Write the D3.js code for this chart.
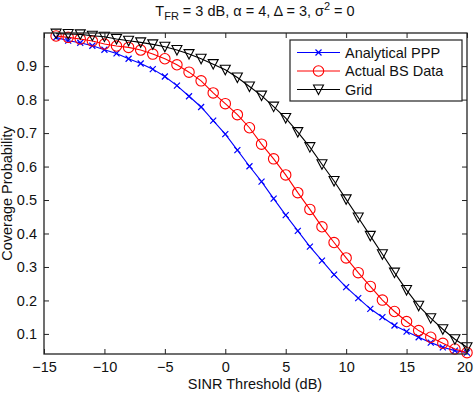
<!DOCTYPE html>
<html>
<head>
<meta charset="utf-8">
<script src="https://cdn.jsdelivr.net/npm/d3@7"></script>
<style>
  body { margin: 0; background: #fff; }
  svg { font-family: "Liberation Sans", Arial, sans-serif; }
</style>
</head>
<body>
<svg id="chart" width="474" height="393"></svg>
<script>
// SINR thresholds (dB)
var thresholds = [-14,-13,-12,-11,-10,-9,-8,-7,-6,-5,-4,-3,-2,-1,0,1,2,3,4,5,6,7,8,9,10,11,12,13,14,15,16,17,18,19,20];

var analyticalPPP = [0.986,0.976,0.970,0.961,0.949,0.938,0.922,0.908,0.891,0.869,0.842,0.810,0.778,0.737,0.697,0.649,0.601,0.555,0.504,0.455,0.408,0.361,0.319,0.277,0.240,0.207,0.175,0.150,0.125,0.107,0.090,0.074,0.060,0.050,0.044];
var actualBS = [0.990,0.986,0.981,0.975,0.966,0.960,0.956,0.948,0.936,0.922,0.904,0.882,0.856,0.820,0.788,0.755,0.716,0.667,0.623,0.575,0.522,0.472,0.420,0.373,0.327,0.283,0.242,0.201,0.167,0.137,0.110,0.090,0.072,0.055,0.044];
var grid = [0.997,0.996,0.995,0.991,0.988,0.981,0.976,0.971,0.965,0.958,0.948,0.936,0.922,0.906,0.889,0.866,0.839,0.812,0.779,0.745,0.703,0.658,0.607,0.557,0.502,0.448,0.393,0.338,0.283,0.231,0.184,0.147,0.114,0.084,0.060];

var xTicks = [-15,-10,-5,0,5,10,15,20];
var yTicks = [0.1,0.2,0.3,0.4,0.5,0.6,0.7,0.8,0.9];

var series = [
    {name: "Analytical PPP", values: analyticalPPP, color: "#0000ff", marker: "x"},
    {name: "Actual BS Data", values: actualBS, color: "#ff0000", marker: "o"},
    {name: "Grid", values: grid, color: "#000000", marker: "v"}
];

var plotLeft = 44, plotRight = 467, plotTop = 33, plotBottom = 354;
var svg = d3.select("#chart");

var xScale = d3.scaleLinear().domain([-15, 20]).range([plotLeft, plotRight]);
var yScale = d3.scaleLinear().domain([0.04, 0.999]).range([plotBottom, plotTop]);

// axes, MATLAB style: ticks inside, box on
var axisColor = "#222";
function styleAxis(g){
    g.select(".domain").remove();
    g.selectAll(".tick line").attr("stroke", axisColor);
    g.selectAll(".tick text").attr("fill", "#111").style("font-size", "14.5px");
}

svg.append("g")
    .attr("transform", `translate(0, ${plotBottom})`)
    .call(d3.axisBottom(xScale).tickValues(xTicks).tickSizeInner(-5).tickSizeOuter(0).tickPadding(8)
        .tickFormat(function(d){ return d < 0 ? "\u2212" + Math.abs(d) : d; }))
    .call(styleAxis)
    .call(function(g){
        // keep the last label inside the page edge
        g.selectAll(".tick text").filter(function(d){ return d == 20; }).attr("dx", -2.5);
    });

svg.append("g")
    .attr("transform", `translate(0, ${plotTop})`)
    .call(d3.axisTop(xScale).tickValues(xTicks).tickSizeInner(-5).tickSizeOuter(0).tickFormat(""))
    .call(styleAxis);

svg.append("g")
    .attr("transform", `translate(${plotLeft}, 0)`)
    .call(d3.axisLeft(yScale).tickValues(yTicks).tickSizeInner(-5).tickSizeOuter(0).tickPadding(7).tickFormat(d3.format(".1f")))
    .call(styleAxis);

svg.append("g")
    .attr("transform", `translate(${plotRight}, 0)`)
    .call(d3.axisRight(yScale).tickValues(yTicks).tickSizeInner(-5).tickSizeOuter(0).tickFormat(""))
    .call(styleAxis);

// markers
function drawMarker(g, type, color){
    if (type == "x") {
        g.append("path").attr("d", "M-3,-3L3,3M-3,3L3,-3")
            .attr("stroke", color).attr("stroke-width", 1.2).attr("fill", "none");
    } else if (type == "o") {
        g.append("circle").attr("r", 5.2)
            .attr("stroke", color).attr("stroke-width", 1.1).attr("fill", "none");
    } else {
        g.append("path").attr("d", "M-5,-4.5L5,-4.5L0,5Z")
            .attr("stroke", color).attr("stroke-width", 1.1).attr("fill", "none");
    }
}

var line = d3.line()
    .x(function(d, i){ return xScale(thresholds[i]); })
    .y(function(d){ return yScale(d); });

series.forEach(function(s){
    svg.append("path")
        .datum(s.values)
        .attr("d", line)
        .attr("fill", "none")
        .attr("stroke", s.color)
        .attr("stroke-width", 1.1);

    svg.append("g")
        .selectAll("g")
        .data(s.values)
        .enter()
        .append("g")
            .attr("transform", function(d, i){ return `translate(${xScale(thresholds[i])}, ${yScale(d)})`; })
            .each(function(){ drawMarker(d3.select(this), s.marker, s.color); });
});

svg.append("rect")
    .attr("x", plotLeft).attr("y", plotTop)
    .attr("width", plotRight - plotLeft).attr("height", plotBottom - plotTop)
    .attr("fill", "none").attr("stroke", axisColor).attr("stroke-width", 1.3);

// legend
var legend = svg.append("g").attr("transform", "translate(290, 40)");
legend.append("rect")
    .attr("width", 172).attr("height", 61)
    .attr("fill", "#fff").attr("stroke", axisColor).attr("stroke-width", 1.2);

series.forEach(function(s, i){
    var row = legend.append("g").attr("transform", `translate(0, ${12.5 + i * 18.5})`);
    row.append("line").attr("x1", 7).attr("x2", 50).attr("y1", 0).attr("y2", 0)
        .attr("stroke", s.color).attr("stroke-width", 1);
    var m = row.append("g").attr("transform", "translate(28.5, 0)");
    drawMarker(m, s.marker, s.color);
    row.append("text").attr("x", 55).attr("y", 5)
        .style("font-size", "14.5px").attr("fill", "#111").text(s.name);
});

// title
var title = svg.append("text")
    .attr("x", 255).attr("y", 16)
    .attr("text-anchor", "middle")
    .style("font-size", "14.5px").attr("fill", "#111");
title.append("tspan").text("T");
title.append("tspan").attr("dy", 4).style("font-size", "11px").text("FR");
title.append("tspan").attr("dy", -4).text(" = 3 dB, \u03b1 = 4, \u0394 = 3, \u03c3");
title.append("tspan").attr("dy", -6).style("font-size", "11px").text("2");
title.append("tspan").attr("dy", 6).text(" = 0");

// axis labels
svg.append("text")
    .attr("x", 255).attr("y", 389)
    .attr("text-anchor", "middle")
    .style("font-size", "14.5px").attr("fill", "#111")
    .text("SINR Threshold (dB)");

svg.append("text")
    .attr("transform", `translate(12, ${(plotTop + plotBottom) / 2}) rotate(-90)`)
    .attr("text-anchor", "middle")
    .style("font-size", "14.5px").attr("fill", "#111")
    .text("Coverage Probability");
</script>
</body>
</html>
